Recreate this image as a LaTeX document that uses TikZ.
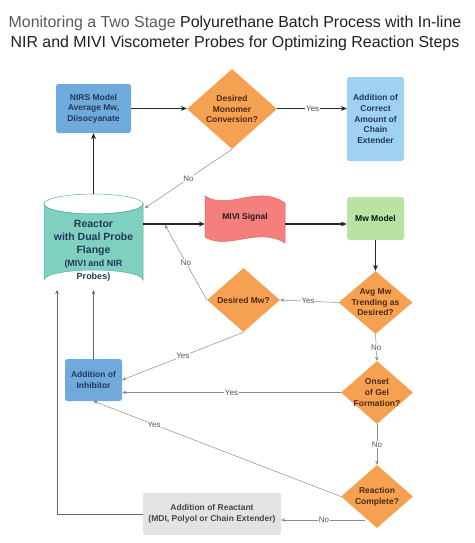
\documentclass[tikz,border=0pt]{standalone}
\usepackage{fontspec}
\setmainfont{Liberation Sans}
\usetikzlibrary{shapes.geometric,arrows.meta}
\definecolor{nirsblue}{HTML}{70AADD}
\definecolor{lightblue}{HTML}{9FD2F2}
\definecolor{teal}{HTML}{80D0C0}
\definecolor{tealedge}{HTML}{5EAE9E}
\definecolor{salmon}{HTML}{F47F7C}
\definecolor{salmonedge}{HTML}{D86462}
\definecolor{mwgreen}{HTML}{B9E2A3}
\definecolor{dorange}{HTML}{F5A152}
\definecolor{lgray}{HTML}{E3E3E3}
\definecolor{navytext}{HTML}{23395A}
\definecolor{browntext}{HTML}{4E2A12}
\definecolor{lblgray}{HTML}{555555}
\definecolor{linegray}{HTML}{8A8A8A}
\begin{document}
\begin{tikzpicture}[x=1pt,y=-1pt,
  boxtext/.style={font=\bfseries\fontsize{8.5}{10.6}\selectfont, align=center},
  bbox/.style={boxtext, rectangle, rounded corners=2.5pt, inner sep=1pt, text=navytext},
  dec/.style={boxtext, diamond, inner sep=-8pt, fill=dorange, text=browntext},
  thick arrow/.style={line width=1.4pt, draw=black!85, -{Stealth[length=6pt,width=5pt]}},
  thin arrow/.style={line width=0.5pt, draw=linegray, -{Stealth[length=4pt,width=3.5pt]}},
  lbl/.style={font=\fontsize{8}{9}\selectfont, text=lblgray, fill=white, inner sep=0.8pt}
]
\useasboundingbox (0,0) rectangle (474,543);
% title
\node[font=\fontsize{15.9}{20}\selectfont, align=center, text=black!88] (title) at (235,33)
  {{\color{black!65}Monitoring a Two Stage} Polyurethane Batch Process with In-line\\NIR and MIVI Viscometer Probes for Optimizing Reaction Steps};

% nodes
\node[bbox, fill=nirsblue, minimum width=75pt, minimum height=49pt] (nirs) at (93.5,108.5) {NIRS Model\\Average Mw,\\Diisocyanate};
\node[dec, minimum width=90pt, minimum height=80pt] (dmono) at (232,109) {Desired\\Monomer\\Conversion?};
\node[bbox, fill=lightblue, minimum width=57pt, minimum height=84pt] (chain) at (375.5,119) {Addition of\\Correct\\Amount of\\Chain\\Extender};

% reactor cylinder
\path[fill=teal, draw=tealedge, line width=0.5pt] (44,204) -- (44,280) arc[start angle=180, end angle=360, x radius=49.5, y radius=10] -- (143,204) arc[start angle=0, end angle=180, x radius=49.5, y radius=10] -- cycle;
\draw[tealedge, line width=0.5pt] (93.5,204) ellipse[x radius=49.5, y radius=10];
\node[minimum width=99pt, minimum height=96pt, inner sep=0pt] (reactor) at (93.5,242) {};
\node[align=center, text=navytext, font=\bfseries\fontsize{10.5}{13}\selectfont] (reactortext) at (93.5,251)
  {Reactor\\with Dual Probe\\Flange\\{\fontsize{9}{13}\selectfont (MIVI and NIR}\\{\fontsize{9}{11}\selectfont Probes)}};

% MIVI signal tape
\path[fill=salmon, draw=salmonedge, line width=0.5pt] (205,196) .. controls (228,211) and (258,184) .. (285,203) -- (285,243) .. controls (258,226) and (228,251) .. (205,237) -- cycle;
\node[boxtext, text=navytext!70!salmonedge!40!black, minimum width=80pt, minimum height=42pt, inner sep=0pt] (mivi) at (245,217) {MIVI Signal};

\node[bbox, fill=mwgreen, text=black!75!green!40!black, minimum width=57pt, minimum height=43pt] (mw) at (375.5,218.5) {Mw Model};
\node[dec, minimum width=74pt, minimum height=63pt] (avg) at (375.5,302.5) {Avg Mw\\Trending as\\Desired?};
\node[dec, minimum width=73pt, minimum height=64pt] (desmw) at (243.5,300) {Desired Mw?};
\node[dec, minimum width=72pt, minimum height=63pt] (onset) at (377,392.5) {Onset\\of Gel\\Formation?};
\node[bbox, fill=nirsblue, minimum width=57pt, minimum height=42pt] (inhib) at (93.5,380) {Addition of\\Inhibitor};
\node[dec, minimum width=72pt, minimum height=63pt] (rcomp) at (377,496.5) {Reaction\\Complete?};
\node[bbox, fill=lgray, text=black!72, minimum width=138pt, minimum height=42pt] (reactant) at (212,514) {Addition of Reactant\\(MDI, Polyol or Chain Extender)};

% helper coordinates
\coordinate (row) at (0,224);
\coordinate (rtr) at (145,208);
\coordinate (rmid) at (165,225);
\coordinate (rcsw) at (365,520);
\coordinate (rbl) at (57,290);

% thick connectors
\draw[thick arrow] (reactor.north) -- (nirs.south);
\draw[thick arrow] (nirs.east) -- (dmono.west |- nirs.east);
\draw[thick arrow] (dmono.east |- nirs.east) -- node[lbl, text=black!70, pos=0.51] {Yes} (chain.west |- nirs.east);
\draw[thick arrow] (reactor.east |- row) -- (mivi.west |- row);
\draw[thick arrow] (mivi.east |- row) -- (mw.west |- row);
\draw[thick arrow] (mw.south) -- (avg.north);

% thin connectors
\draw[thin arrow] (dmono.south) -- node[lbl] {No} (rtr);
\draw[thin arrow] (desmw.west) -- node[lbl] {No} (rmid);
\draw[thin arrow] (avg.west) -- node[lbl, pos=0.52] {Yes} (desmw.east);
\draw[thin arrow] (avg.south) -- node[lbl] {No} (onset.north);
\draw[thin arrow] (desmw.south) -- node[lbl] {Yes} (inhib.east);
\draw[thin arrow] (onset.west) -- node[lbl] {Yes} (inhib.east |- onset.west);
\draw[thin arrow] (onset.south) -- node[lbl] {No} (rcomp.north);
\draw[thin arrow] (rcomp.west) -- node[lbl, pos=0.755] {Yes} (inhib.south);
\draw[thin arrow] (rcsw) -- node[lbl, pos=0.49] {No} (reactant.east |- rcsw);
\draw[thin arrow, draw=black!60] (inhib.north) -- (reactor.south);
\draw[thin arrow, draw=black!60] (reactant.west) -| (rbl);
\end{tikzpicture}
\end{document}
